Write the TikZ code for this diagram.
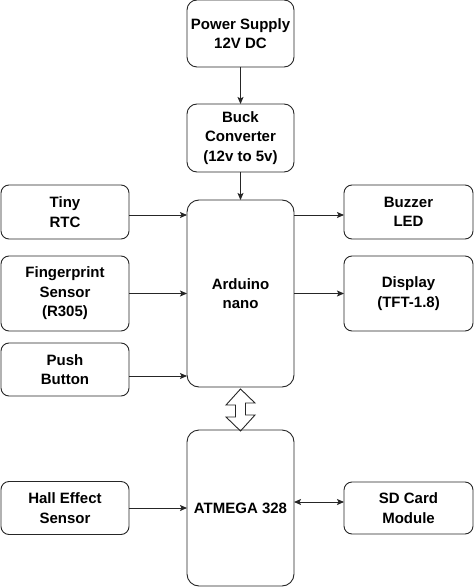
\documentclass[tikz,border=0pt]{standalone}
\usepackage{fontspec}
\setmainfont{Liberation Sans}
\usepackage{xcolor}
\usetikzlibrary{arrows.meta,positioning,calc}
\definecolor{bk90}{HTML}{262626}
\tikzset{
  partbox/.style={
    rectangle, draw=bk90, rounded corners=#1, line width=0.9pt,
    font=\fontsize{15}{19.5}\selectfont\bfseries, align=center,
    inner sep=0pt, outer sep=0pt
  },
  partbox/.default=8pt,
  dataarrow/.style={
    -{Stealth[length=7pt, width=6pt, inset=1.5pt]}, line width=0.9pt, color=bk90
  },
  bothway/.style={
    {Stealth[length=7pt, width=6pt, inset=1.5pt]}-{Stealth[length=7pt, width=6pt, inset=1.5pt]},
    line width=0.9pt, color=bk90
  },
  blockarrow/.style={draw=bk90, line width=0.9pt, line join=miter}
}
\begin{document}
\begin{tikzpicture}[x=1pt, y=1pt]
\useasboundingbox (0,0) rectangle (474,-588);

% Main controller column
\node[partbox=12pt, minimum width=107pt, minimum height=187pt] (arduino) at (240.5,-293.5) {Arduino\\nano};
\node[partbox=10pt, above=28pt of arduino, minimum width=107pt, minimum height=68pt] (buck) {Buck\\Converter\\(12v to 5v)};
\node[partbox=10pt, above=37pt of buck, minimum width=107pt, minimum height=67pt] (power) {Power Supply\\12V DC};
\node[partbox=12pt, below=43pt of arduino, minimum width=107pt, minimum height=156pt] (atmega) {ATMEGA 328};

% Inputs (left)
\node[partbox, left=58pt of arduino, minimum width=128pt, minimum height=75pt] (finger) {Fingerprint\\Sensor\\(R305)};
\node[partbox, above=17pt of finger, minimum width=128pt, minimum height=54pt] (rtc) {Tiny\\RTC};
\node[partbox, below=12pt of finger, minimum width=128pt, minimum height=53pt] (push) {Push\\Button};
\node[partbox, left=58pt of atmega, minimum width=128pt, minimum height=53pt] (hall) {Hall Effect\\Sensor};

% Outputs (right)
\node[partbox, right=50pt of arduino, minimum width=129pt, minimum height=75pt] (display) {Display\\(TFT-1.8)};
\node[partbox, above=17pt of display, minimum width=129pt, minimum height=54pt] (buzzer) {Buzzer\\LED};
\node[partbox, right=50pt of atmega, minimum width=129pt, minimum height=52pt] (sdcard) {SD Card\\Module};

% Power chain
\draw[dataarrow] (power.south) -- (buck.north);
\draw[dataarrow] (buck.south) -- (arduino.north);

% Inputs into arduino
\draw[dataarrow] ([yshift=-3pt]rtc.east) -- ([yshift=-3pt]rtc.east -| arduino.west);
\draw[dataarrow] (finger.east) -- (finger.east -| arduino.west);
\draw[dataarrow] ([yshift=-6.5pt]push.east) -- ([yshift=-6.5pt]push.east -| arduino.west);
\draw[dataarrow] (hall.east) -- (hall.east -| atmega.west);

% Outputs from arduino
\draw[dataarrow] ([yshift=-3pt]buzzer.west -| arduino.east) -- ([yshift=-3pt]buzzer.west);
\draw[dataarrow] (display.west -| arduino.east) -- (display.west);
\draw[bothway] ([yshift=6pt]sdcard.west -| atmega.east) -- ([yshift=6pt]sdcard.west);

% Link arduino <-> atmega
\draw[blockarrow] ($(arduino.south)+(0,-2)$) -- ++(14.5,-14) -- ++(-9.5,0) -- ++(0,-12) -- ++(9.5,0)
  -- ($(atmega.north)+(0,-1)$) -- ++(-14.5,14) -- ++(9.5,0) -- ++(0,12) -- ++(-9.5,0) -- cycle;

\end{tikzpicture}
\end{document}
